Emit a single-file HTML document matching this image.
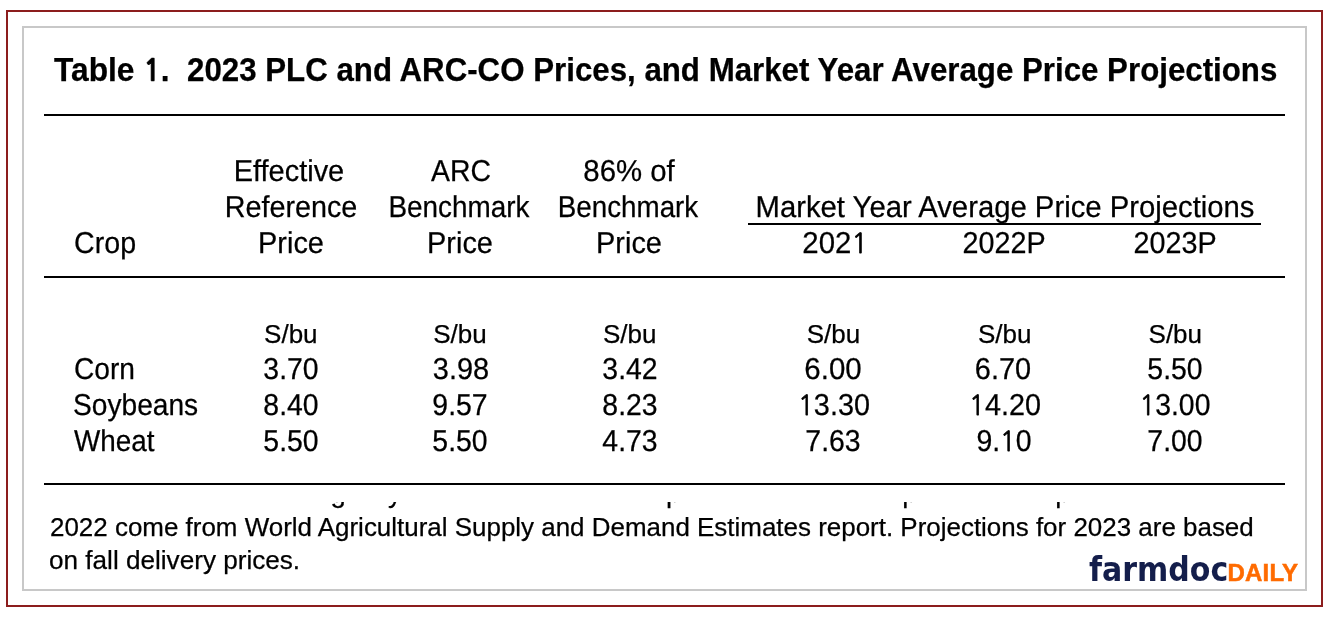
<!DOCTYPE html>
<html><head><meta charset="utf-8"><title>Table 1. 2023 PLC and ARC-CO Prices</title>
<style>
html,body{margin:0;padding:0;background:#fff;}
body{width:1332px;height:618px;position:relative;overflow:hidden;font-family:"Liberation Sans",Arial,sans-serif;color:#000;}
.t,.g{position:absolute;white-space:nowrap;line-height:1;-webkit-text-stroke:0.25px #000;}
.g{text-rendering:geometricPrecision;}
.one{font-family:NanumGothic,"Liberation Sans",sans-serif;font-size:0.91em;line-height:0;-webkit-text-stroke:0.7px #000;}
.red{position:absolute;box-sizing:border-box;left:6px;top:10px;width:1317px;height:597px;border:2px solid #8c1d1d;}
.gray{position:absolute;box-sizing:border-box;left:22px;top:26px;width:1285px;height:565px;border:2px solid #c8c8c8;}
.hl{position:absolute;background:#000;}
.clip{position:absolute;left:40px;top:502px;width:1250px;height:10px;overflow:hidden;}
.clip span{position:absolute;top:0;font-size:27.5px;line-height:1;-webkit-text-stroke:0.25px #000;}
.logo{position:absolute;white-space:nowrap;line-height:1;font-weight:bold;}
.fd{left:1089px;top:555.8px;font-family:"DejaVu Sans","Liberation Sans",sans-serif;font-size:30px;color:#141e4b;transform:scaleY(1.1);transform-origin:0 25.4px;}
.dl{left:1227.5px;top:561.4px;font-family:"Liberation Sans",sans-serif;font-size:24px;color:#ff6b00;letter-spacing:0.2px;-webkit-text-stroke:0.5px #ff6b00;}
</style></head><body>
<div class="red"></div>
<div class="gray"></div>
<div class="hl" style="left:44px;top:114px;width:1241px;height:2px;"></div>
<div class="hl" style="left:748px;top:223px;width:513px;height:2px;"></div>
<div class="hl" style="left:44px;top:276px;width:1241px;height:2px;"></div>
<div class="hl" style="left:44px;top:483px;width:1241px;height:2px;"></div>
<div class="t" style="top:54.31px;left:54.00px;font-size:32.5px;font-weight:bold;transform:scaleX(0.9760);transform-origin:0 0;">Table <span class="one">1</span>.</div>
<div class="t" style="top:54.31px;left:187.30px;font-size:32.5px;font-weight:bold;transform:scaleX(0.9617);transform-origin:0 0;">2023 PLC and ARC-CO Prices, and Market Year Average Price Projections</div>
<div class="g" style="top:156.92px;left:-10.70px;width:600px;text-align:center;font-size:30.2px;transform:scaleX(0.9586);transform-origin:50% 0;">Effective</div>
<div class="g" style="top:192.92px;left:-8.95px;width:600px;text-align:center;font-size:30.2px;transform:scaleX(0.9512);transform-origin:50% 0;">Reference</div>
<div class="g" style="top:229.32px;left:-9.20px;width:600px;text-align:center;font-size:30.2px;transform:scaleX(0.9568);transform-origin:50% 0;">Price</div>
<div class="g" style="top:156.92px;left:160.50px;width:600px;text-align:center;font-size:30.2px;transform:scaleX(0.9415);transform-origin:50% 0;">ARC</div>
<div class="g" style="top:192.92px;left:159.25px;width:600px;text-align:center;font-size:30.2px;transform:scaleX(0.9238);transform-origin:50% 0;">Benchmark</div>
<div class="g" style="top:229.32px;left:159.50px;width:600px;text-align:center;font-size:30.2px;transform:scaleX(0.9572);transform-origin:50% 0;">Price</div>
<div class="g" style="top:156.92px;left:329.20px;width:600px;text-align:center;font-size:30.2px;transform:scaleX(0.9723);transform-origin:50% 0;">86% of</div>
<div class="g" style="top:192.92px;left:328.20px;width:600px;text-align:center;font-size:30.2px;transform:scaleX(0.9204);transform-origin:50% 0;">Benchmark</div>
<div class="g" style="top:229.32px;left:329.20px;width:600px;text-align:center;font-size:30.2px;transform:scaleX(0.9572);transform-origin:50% 0;">Price</div>
<div class="g" style="top:229.32px;left:73.50px;font-size:30.2px;transform:scaleX(0.9486);transform-origin:0 0;">Crop</div>
<div class="g" style="top:192.92px;left:704.80px;width:600px;text-align:center;font-size:30.2px;transform:scaleX(0.9697);transform-origin:50% 0;">Market Year Average Price Projections</div>
<div class="g" style="top:229.32px;left:534.50px;width:600px;text-align:center;font-size:30.2px;transform:scaleX(0.9736);transform-origin:50% 0;">202<span class="one">1</span></div>
<div class="g" style="top:229.32px;left:704.20px;width:600px;text-align:center;font-size:30.2px;transform:scaleX(0.9526);transform-origin:50% 0;">2022P</div>
<div class="g" style="top:229.32px;left:875.30px;width:600px;text-align:center;font-size:30.2px;transform:scaleX(0.9522);transform-origin:50% 0;">2023P</div>
<div class="t" style="top:320.91px;left:-9.20px;width:600px;text-align:center;font-size:26px;">S/bu</div>
<div class="t" style="top:320.91px;left:160.00px;width:600px;text-align:center;font-size:26px;">S/bu</div>
<div class="t" style="top:320.91px;left:329.70px;width:600px;text-align:center;font-size:26px;">S/bu</div>
<div class="t" style="top:320.91px;left:533.50px;width:600px;text-align:center;font-size:26px;">S/bu</div>
<div class="t" style="top:320.91px;left:704.70px;width:600px;text-align:center;font-size:26px;">S/bu</div>
<div class="t" style="top:320.91px;left:875.30px;width:600px;text-align:center;font-size:26px;">S/bu</div>
<div class="g" style="top:355.42px;left:73.50px;font-size:30.2px;transform:scaleX(0.9325);transform-origin:0 0;">Corn</div>
<div class="g" style="top:355.42px;left:-8.70px;width:600px;text-align:center;font-size:30.2px;transform:scaleX(0.9400);transform-origin:50% 0;">3.70</div>
<div class="g" style="top:355.42px;left:160.50px;width:600px;text-align:center;font-size:30.2px;transform:scaleX(0.9586);transform-origin:50% 0;">3.98</div>
<div class="g" style="top:355.42px;left:329.70px;width:600px;text-align:center;font-size:30.2px;transform:scaleX(0.9400);transform-origin:50% 0;">3.42</div>
<div class="g" style="top:355.42px;left:533.00px;width:600px;text-align:center;font-size:30.2px;transform:scaleX(0.9761);transform-origin:50% 0;">6.00</div>
<div class="g" style="top:355.42px;left:703.20px;width:600px;text-align:center;font-size:30.2px;transform:scaleX(0.9581);transform-origin:50% 0;">6.70</div>
<div class="g" style="top:355.42px;left:875.30px;width:600px;text-align:center;font-size:30.2px;transform:scaleX(0.9400);transform-origin:50% 0;">5.50</div>
<div class="g" style="top:391.22px;left:73.00px;font-size:30.2px;transform:scaleX(0.9324);transform-origin:0 0;">Soybeans</div>
<div class="g" style="top:391.22px;left:-8.70px;width:600px;text-align:center;font-size:30.2px;transform:scaleX(0.9400);transform-origin:50% 0;">8.40</div>
<div class="g" style="top:391.22px;left:160.00px;width:600px;text-align:center;font-size:30.2px;transform:scaleX(0.9400);transform-origin:50% 0;">9.57</div>
<div class="g" style="top:391.22px;left:329.70px;width:600px;text-align:center;font-size:30.2px;transform:scaleX(0.9400);transform-origin:50% 0;">8.23</div>
<div class="g" style="top:391.22px;left:534.25px;width:600px;text-align:center;font-size:30.2px;transform:scaleX(0.9555);transform-origin:50% 0;"><span class="one">1</span>3.30</div>
<div class="g" style="top:391.22px;left:704.70px;width:600px;text-align:center;font-size:30.2px;transform:scaleX(0.9540);transform-origin:50% 0;"><span class="one">1</span>4.20</div>
<div class="g" style="top:391.22px;left:875.30px;width:600px;text-align:center;font-size:30.2px;transform:scaleX(0.9400);transform-origin:50% 0;"><span class="one">1</span>3.00</div>
<div class="g" style="top:427.12px;left:74.00px;font-size:30.2px;transform:scaleX(0.9233);transform-origin:0 0;">Wheat</div>
<div class="g" style="top:427.12px;left:-9.20px;width:600px;text-align:center;font-size:30.2px;transform:scaleX(0.9413);transform-origin:50% 0;">5.50</div>
<div class="g" style="top:427.12px;left:160.00px;width:600px;text-align:center;font-size:30.2px;transform:scaleX(0.9400);transform-origin:50% 0;">5.50</div>
<div class="g" style="top:427.12px;left:329.70px;width:600px;text-align:center;font-size:30.2px;transform:scaleX(0.9400);transform-origin:50% 0;">4.73</div>
<div class="g" style="top:427.12px;left:533.00px;width:600px;text-align:center;font-size:30.2px;transform:scaleX(0.9400);transform-origin:50% 0;">7.63</div>
<div class="g" style="top:427.12px;left:703.95px;width:600px;text-align:center;font-size:30.2px;transform:scaleX(0.9419);transform-origin:50% 0;">9.<span class="one">1</span>0</div>
<div class="g" style="top:427.12px;left:875.30px;width:600px;text-align:center;font-size:30.2px;transform:scaleX(0.9400);transform-origin:50% 0;">7.00</div>
<div class="t" style="top:513.51px;left:49.50px;font-size:26px;transform:scaleX(0.9979);transform-origin:0 0;">2022 come from World Agricultural Supply and Demand Estimates report. Projections for 2023 are based</div>
<div class="t" style="top:546.71px;left:49.30px;font-size:26px;transform:scaleX(1.0045);transform-origin:0 0;">on fall delivery prices.</div>
<div class="clip"><span style="left:290.5px;top:-22.84px">g</span><span style="left:348.0px;top:-22.84px">y</span><span style="left:626.1px;top:-22.84px">p</span><span style="left:862.2px;top:-22.84px">p</span><span style="left:1015.3px;top:-22.84px">p</span></div>
<div class="logo fd">farmdoc</div><div class="logo dl">DAILY</div>
</body></html>
